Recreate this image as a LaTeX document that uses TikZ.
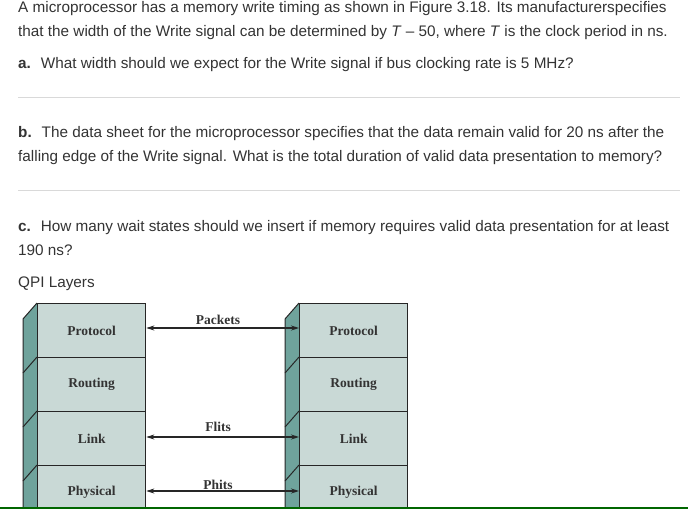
\documentclass[tikz,border=0pt]{standalone}
\usepackage{fontspec}
\setmainfont{Liberation Sans}
\newfontfamily\serifb{Liberation Serif}
\usetikzlibrary{arrows.meta}
\definecolor{txt}{HTML}{333333}
\definecolor{face}{HTML}{C9D9D6}
\definecolor{side}{HTML}{6FA39C}
\tikzset{
 para/.style={anchor=base west,text=txt,font=\fontsize{15.3}{17}\selectfont,inner sep=0},
 layer/.style={draw=black!85,fill=face,line width=1.3pt,minimum width=108pt,minimum height=54pt,inner sep=0,font=\serifb\bfseries\fontsize{13.5}{15}\selectfont,text=black!80},
 lbl/.style={font=\serifb\bfseries\fontsize{13.5}{15}\selectfont,text=black!80,inner sep=0},
 link/.style={{Stealth[length=8pt,width=5pt]}-{Stealth[length=8pt,width=5pt]},line width=1.1pt,black!85}
}
\begin{document}
\begin{tikzpicture}[x=1pt,y=-1pt]
\useasboundingbox (0,0) rectangle (688,509);
\node[para] (l1) at (18,12) {A microprocessor has a memory write timing as shown in Figure 3.18. Its manufacturerspecifies};
\node[para] (l2) at (18,36) {that the width of the Write signal can be determined by \textit{T} -- 50, where \textit{T} is the clock period in ns.};
\node[para] (l3) at (18,68) {\textbf{a.} \ What width should we expect for the Write signal if bus clocking rate is 5 MHz?};
\draw[black!15,line width=0.8pt] (18,97) -- (680,97);
\node[para] (l4) at (18,137) {\textbf{b.} \ The data sheet for the microprocessor specifies that the data remain valid for 20 ns after the};
\node[para] (l5) at (18,161) {falling edge of the Write signal. What is the total duration of valid data presentation to memory?};
\draw[black!15,line width=0.8pt] (18,190) -- (680,190);
\node[para] (l6) at (18,231) {\textbf{c.} \ How many wait states should we insert if memory requires valid data presentation for at least};
\node[para] (l7) at (18,255) {190 ns?};
\node[para] (l8) at (18,287) {QPI Layers};
% stacks
\foreach \s/\x in {L/37,R/299}{
 \foreach \n/\y/\t in {1/303/Protocol,2/357/Routing,3/411/Link,4/465/Physical}{
  \fill[side] (\x,\y) -- (\x-14,\y+16) -- (\x-14,\y+54+16) -- (\x,\y+54) -- cycle;
  \draw[black!85,line width=1pt] (\x,\y) -- (\x-14,\y+16) -- (\x-14,\y+54+16);
  \node[layer,anchor=north west] (\s\n) at (\x,\y) {\t};
 }
}
\fill[white] (0,509) rectangle (688,520);
\draw[link] (L1.east|-0,328) -- (R1.west|-0,328);
\draw[link] (L3.east|-0,437) -- (R3.west|-0,437);
\draw[link] (L4.east|-0,491) -- (R4.west|-0,491);
\node[lbl] (pk) at (218,320) {Packets};
\node[lbl] (fl) at (218,427) {Flits};
\node[lbl] (ph) at (218,485) {Phits};
\draw[green!40!black,line width=2pt] (0,508) -- (688,508);
\end{tikzpicture}
\end{document}
